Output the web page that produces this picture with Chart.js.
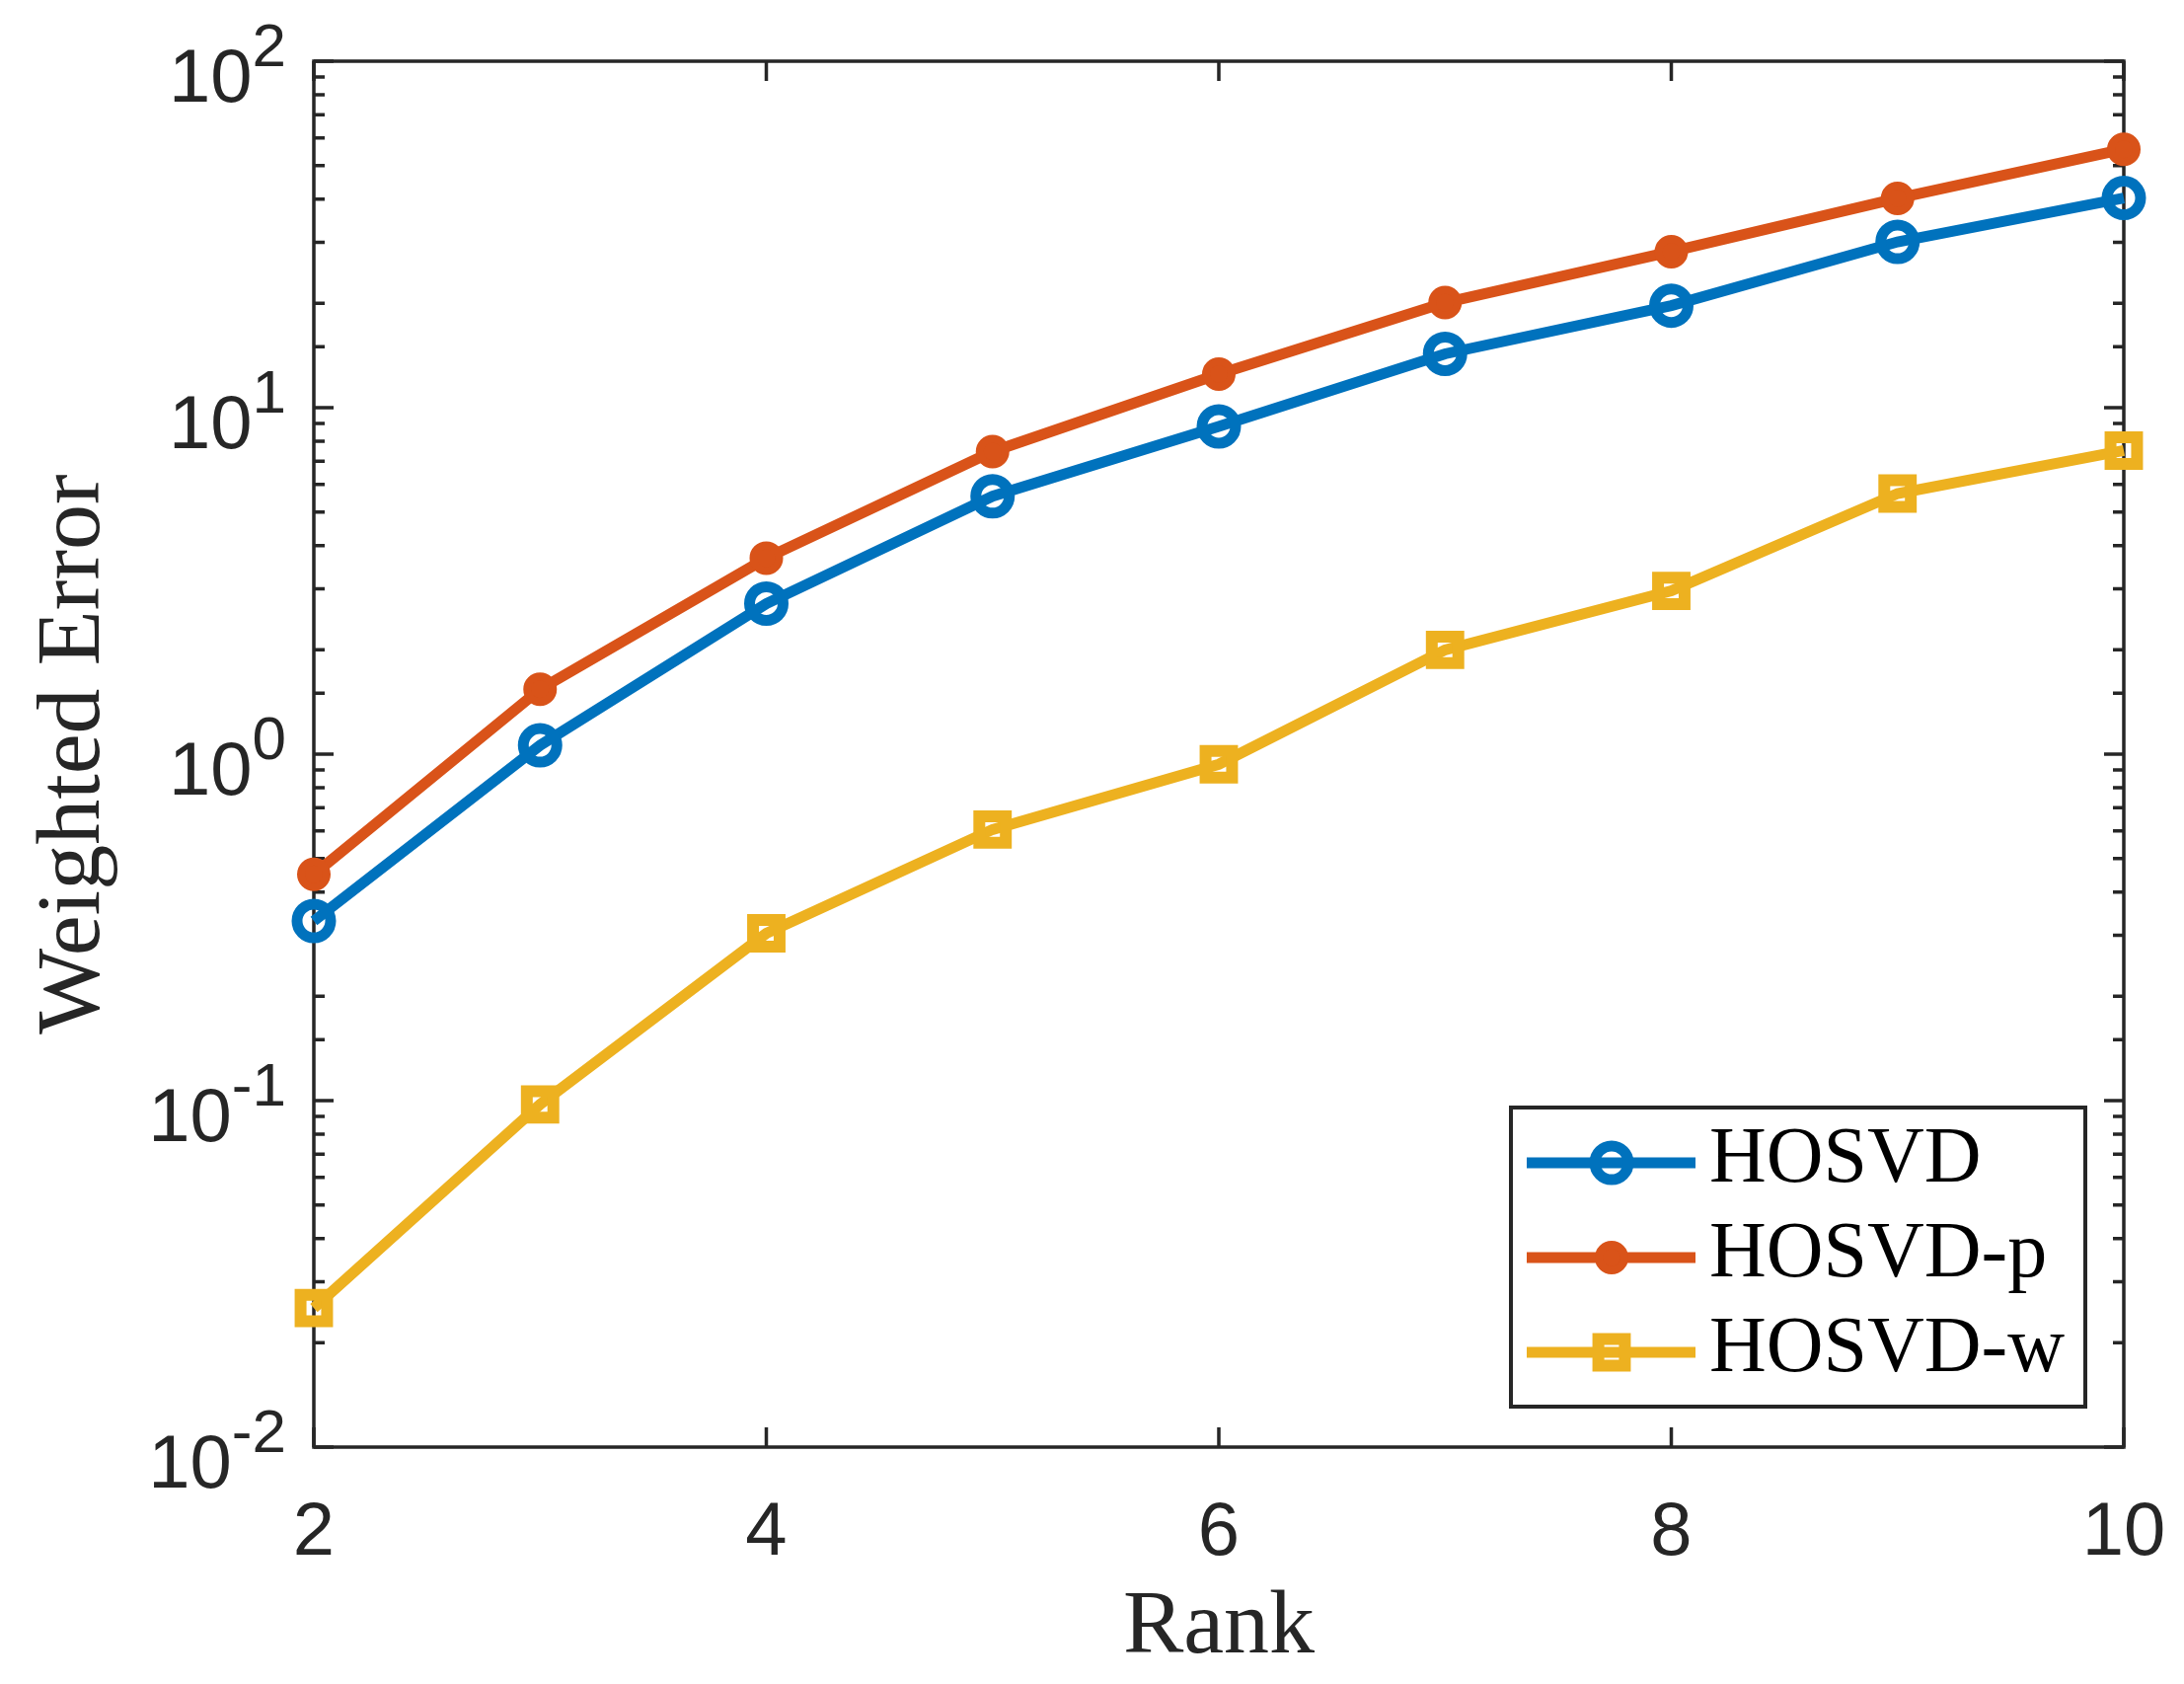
<!DOCTYPE html>
<html>
<head>
<meta charset="utf-8">
<title>Weighted Error vs Rank</title>
<script src="https://cdn.jsdelivr.net/npm/chart.js@4.4.1/dist/chart.umd.min.js"></script>
<style>
  html, body { margin: 0; padding: 0; background: #fff; }
  #wrap { position: relative; width: 2213px; height: 1706px; }
</style>
</head>
<body>
<div id="wrap"><canvas id="errChart"></canvas></div>
<script>
// data
const ranks = [2, 3, 4, 5, 6, 7, 8, 9, 10];
const hosvd = [0.33, 1.06, 2.72, 5.55, 8.83, 14.3, 19.7, 30.1, 40.3];
const hosvdP = [0.45, 1.54, 3.68, 7.47, 12.5, 20.1, 28.2, 40.2, 55.7];
const hosvdW = [0.0252, 0.0975, 0.304, 0.606, 0.935, 2.0, 2.96, 5.65, 7.52];

const xTicks = [2, 4, 6, 8, 10];
const yTickExps = [-2, -1, 0, 1, 2];

const AXIS = '#262626';
const SANS = '"Liberation Sans", Arial, Helvetica, sans-serif';
const SERIF = '"Liberation Serif", "Times New Roman", serif';

function toPoints(vals) {
    return ranks.map((r, i) => ({ x: r, y: vals[i] }));
}

// box, inward ticks, tick labels and axis titles, MATLAB style
const axesBox = {
    id: 'axesBox',
    beforeDatasetsDraw(chart) {
        const { ctx, chartArea: a, scales: { x, y } } = chart;
        ctx.save();
        ctx.strokeStyle = AXIS;
        ctx.lineWidth = 3.5;
        ctx.lineCap = 'butt';
        ctx.beginPath();
        xTicks.forEach(v => {
            const px = x.getPixelForValue(v);
            ctx.moveTo(px, a.bottom); ctx.lineTo(px, a.bottom - 20);
            ctx.moveTo(px, a.top); ctx.lineTo(px, a.top + 20);
        });
        y.ticks.forEach(t => {
            const lg = Math.log10(t.value);
            const major = Math.abs(lg - Math.round(lg)) < 1e-9;
            const len = major ? 20 : 11;
            const py = y.getPixelForValue(t.value);
            ctx.moveTo(a.left, py); ctx.lineTo(a.left + len, py);
            ctx.moveTo(a.right, py); ctx.lineTo(a.right - len, py);
        });
        ctx.stroke();
        ctx.strokeRect(a.left, a.top, a.right - a.left, a.bottom - a.top);

        ctx.fillStyle = AXIS;
        // x tick labels
        ctx.font = '76px ' + SANS;
        ctx.textAlign = 'center';
        ctx.textBaseline = 'alphabetic';
        xTicks.forEach(v => ctx.fillText(String(v), x.getPixelForValue(v), a.bottom + 109));
        // y tick labels: 10 with exponent
        const rightEdge = a.left - 28;
        yTickExps.forEach(e => {
            const py = y.getPixelForValue(Math.pow(10, e));
            const exp = String(e);
            ctx.textAlign = 'right';
            ctx.font = '62px ' + SANS;
            const ew = ctx.measureText(exp).width;
            ctx.fillText(exp, rightEdge, py + 5);
            ctx.font = '76px ' + SANS;
            ctx.fillText('10', rightEdge - ew, py + 41);
        });
        // axis titles
        ctx.font = '92px ' + SERIF;
        ctx.textAlign = 'center';
        ctx.fillText('Rank', (a.left + a.right) / 2, 1674);
        ctx.save();
        ctx.translate(100, (a.top + a.bottom) / 2);
        ctx.rotate(-Math.PI / 2);
        ctx.fillText('Weighted Error', 0, 0);
        ctx.restore();
        ctx.restore();
    }
};

// legend box in the lower right, line + marker like MATLAB
const boxLegend = {
    id: 'boxLegend',
    afterDatasetsDraw(chart) {
        const ctx = chart.ctx;
        const bx = 1531, by = 1122, bw = 582, bh = 303;
        ctx.save();
        ctx.fillStyle = '#fff';
        ctx.fillRect(bx, by, bw, bh);
        ctx.strokeStyle = AXIS;
        ctx.lineWidth = 4;
        ctx.strokeRect(bx, by, bw, bh);
        chart.data.datasets.forEach((ds, i) => {
            const rowY = by + 56 + i * 96;
            ctx.strokeStyle = ds.borderColor;
            ctx.lineWidth = ds.borderWidth;
            ctx.beginPath();
            ctx.moveTo(bx + 16, rowY);
            ctx.lineTo(bx + 187, rowY);
            ctx.stroke();
            ctx.fillStyle = ds.pointBackgroundColor;
            ctx.strokeStyle = ds.pointBorderColor;
            ctx.lineWidth = ds.pointBorderWidth;
            Chart.helpers.drawPoint(ctx, {
                pointStyle: ds.pointStyle,
                radius: ds.pointRadius,
                borderWidth: ds.pointBorderWidth,
                rotation: 0
            }, bx + 102, rowY);
            ctx.fillStyle = '#000';
            ctx.font = '80px ' + SERIF;
            ctx.textAlign = 'left';
            ctx.textBaseline = 'alphabetic';
            ctx.fillText(ds.label, bx + 201, rowY + 19);
        });
        ctx.restore();
    }
};

const ctx = document.getElementById('errChart').getContext('2d');
new Chart(ctx, {
    type: 'line',
    data: {
        datasets: [{
            label: 'HOSVD',
            data: toPoints(hosvd),
            borderColor: '#0072BD',
            borderWidth: 11,
            pointStyle: 'circle',
            pointRadius: 17,
            pointBorderWidth: 11,
            pointBorderColor: '#0072BD',
            pointBackgroundColor: 'rgba(0,0,0,0)',
            clip: false
        }, {
            label: 'HOSVD-p',
            data: toPoints(hosvdP),
            borderColor: '#D95319',
            borderWidth: 11,
            pointStyle: 'circle',
            pointRadius: 13,
            pointBorderWidth: 8,
            pointBorderColor: '#D95319',
            pointBackgroundColor: '#D95319',
            clip: false
        }, {
            label: 'HOSVD-w',
            data: toPoints(hosvdW),
            borderColor: '#EDB120',
            borderWidth: 11,
            pointStyle: 'rect',
            pointRadius: 19,
            pointBorderWidth: 12,
            pointBorderColor: '#EDB120',
            pointBackgroundColor: 'rgba(0,0,0,0)',
            clip: false
        }]
    },
    options: {
        responsive: true,
        maintainAspectRatio: false,
        devicePixelRatio: 1,
        animation: false,
        layout: { padding: { left: 0, right: 61, top: 62, bottom: 0 } },
        plugins: {
            legend: { display: false },
            tooltip: { enabled: false }
        },
        scales: {
            x: {
                type: 'linear',
                min: 2,
                max: 10,
                ticks: { display: false, stepSize: 2 },
                grid: { display: false },
                border: { display: false },
                afterFit(scale) { scale.height = 240; }
            },
            y: {
                type: 'logarithmic',
                min: 0.01,
                max: 100,
                ticks: { display: false },
                grid: { display: false },
                border: { display: false },
                afterFit(scale) { scale.width = 318; }
            }
        }
    },
    plugins: [axesBox, boxLegend]
});
</script>
</body>
</html>
